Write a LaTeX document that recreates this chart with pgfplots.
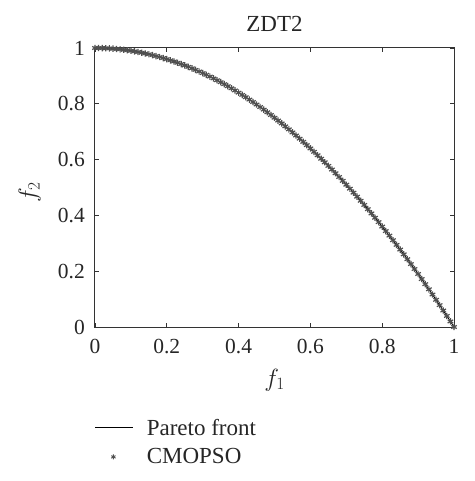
\documentclass[border=0pt]{standalone}
\usepackage{pgfplots}
\pgfplotsset{compat=1.18}
\usepackage{pgfplotstable}
\usepackage{fontspec}
\setmainfont{Liberation Serif}
\pgfplotstableread{
x y
0.00 1.0000
0.01 0.9999
0.02 0.9996
0.03 0.9991
0.04 0.9984
0.05 0.9975
0.06 0.9964
0.07 0.9951
0.08 0.9936
0.09 0.9919
0.10 0.9900
0.11 0.9879
0.12 0.9856
0.13 0.9831
0.14 0.9804
0.15 0.9775
0.16 0.9744
0.17 0.9711
0.18 0.9676
0.19 0.9639
0.20 0.9600
0.21 0.9559
0.22 0.9516
0.23 0.9471
0.24 0.9424
0.25 0.9375
0.26 0.9324
0.27 0.9271
0.28 0.9216
0.29 0.9159
0.30 0.9100
0.31 0.9039
0.32 0.8976
0.33 0.8911
0.34 0.8844
0.35 0.8775
0.36 0.8704
0.37 0.8631
0.38 0.8556
0.39 0.8479
0.40 0.8400
0.41 0.8319
0.42 0.8236
0.43 0.8151
0.44 0.8064
0.45 0.7975
0.46 0.7884
0.47 0.7791
0.48 0.7696
0.49 0.7599
0.50 0.7500
0.51 0.7399
0.52 0.7296
0.53 0.7191
0.54 0.7084
0.55 0.6975
0.56 0.6864
0.57 0.6751
0.58 0.6636
0.59 0.6519
0.60 0.6400
0.61 0.6279
0.62 0.6156
0.63 0.6031
0.64 0.5904
0.65 0.5775
0.66 0.5644
0.67 0.5511
0.68 0.5376
0.69 0.5239
0.70 0.5100
0.71 0.4959
0.72 0.4816
0.73 0.4671
0.74 0.4524
0.75 0.4375
0.76 0.4224
0.77 0.4071
0.78 0.3916
0.79 0.3759
0.80 0.3600
0.81 0.3439
0.82 0.3276
0.83 0.3111
0.84 0.2944
0.85 0.2775
0.86 0.2604
0.87 0.2431
0.88 0.2256
0.89 0.2079
0.90 0.1900
0.91 0.1719
0.92 0.1536
0.93 0.1351
0.94 0.1164
0.95 0.0975
0.96 0.0784
0.97 0.0591
0.98 0.0396
0.99 0.0199
1.00 0.0000
}\front
\definecolor{axgray}{HTML}{333333}
\definecolor{mkgray}{HTML}{505050}
\pgfplotsset{
  lineleg/.style={legend image code/.code={\draw[##1] (0pt,0pt) -- (38pt,0pt);}},
  markleg/.style={legend image code/.code={%
    \path[draw=none] (0pt,0pt) -- (38pt,0pt);
    \begin{scope}[shift={(18pt,0pt)}, mkgray, line width=0.9pt]
      \pgfsetplotmarksize{2.5pt}\pgfuseplotmark{asterisk}
    \end{scope}}},
}
\begin{document}
\begin{tikzpicture}
\path[use as bounding box] (-95pt,-154pt) rectangle (379pt,327pt);
\begin{axis}[
  at={(0,0)}, anchor=south west,
  scale only axis, width=359pt, height=279pt,
  xmin=0, xmax=1, ymin=0, ymax=1,
  xtick={0,0.2,0.4,0.6,0.8,1},
  ytick={0,0.2,0.4,0.6,0.8,1},
  xticklabels={0,0.2,0.4,0.6,0.8,1},
  yticklabels={0,0.2,0.4,0.6,0.8,1},
  axis line style={axgray, line width=1pt},
  major tick length=4pt,
  tick style={axgray, line width=0.8pt},
  tick align=inside,
  every tick label/.append style={font=\fontsize{21.5}{25}\selectfont, text=black!85},
  xticklabel style={anchor=base, inner sep=0pt, yshift=-26pt},
  yticklabel style={anchor=east, inner sep=0pt, xshift=-10pt},
  title={ZDT2},
  title style={at={(0.5,1)}, anchor=base, yshift=10.5pt, inner sep=0pt, font=\fontsize{23}{27}\selectfont, text=black!85},
  xlabel={$f_1$},
  ylabel={$f_2$},
  xlabel style={at={(axis description cs:0.5,0)}, anchor=base, yshift=-59pt, inner sep=0pt, font=\fontsize{23}{27}\selectfont, text=black!85},
  ylabel style={at={(axis description cs:0,0.5)}, anchor=base, yshift=59pt, xshift=-5pt, inner sep=0pt, font=\fontsize{23}{27}\selectfont, text=black!85},
  legend style={draw=none, fill=none, at={(axis description cs:0,-0.322)}, anchor=north west,
    font=\fontsize{23}{27}\selectfont, text=black!85, inner sep=0pt, outer sep=0pt,
    row sep=8pt, cells={anchor=west},
    /tikz/every odd column/.append style={column sep=11pt}},
]
\addplot[black, line width=0.8pt, lineleg] table[x=x,y=y] {\front};
\addlegendentry{Pareto front}
\addplot[only marks, mark=asterisk, mark size=3.2pt, mkgray, line width=1.2pt, markleg] table[x=x,y=y] {\front};
\addlegendentry{CMOPSO}
\end{axis}
\end{tikzpicture}
\end{document}
